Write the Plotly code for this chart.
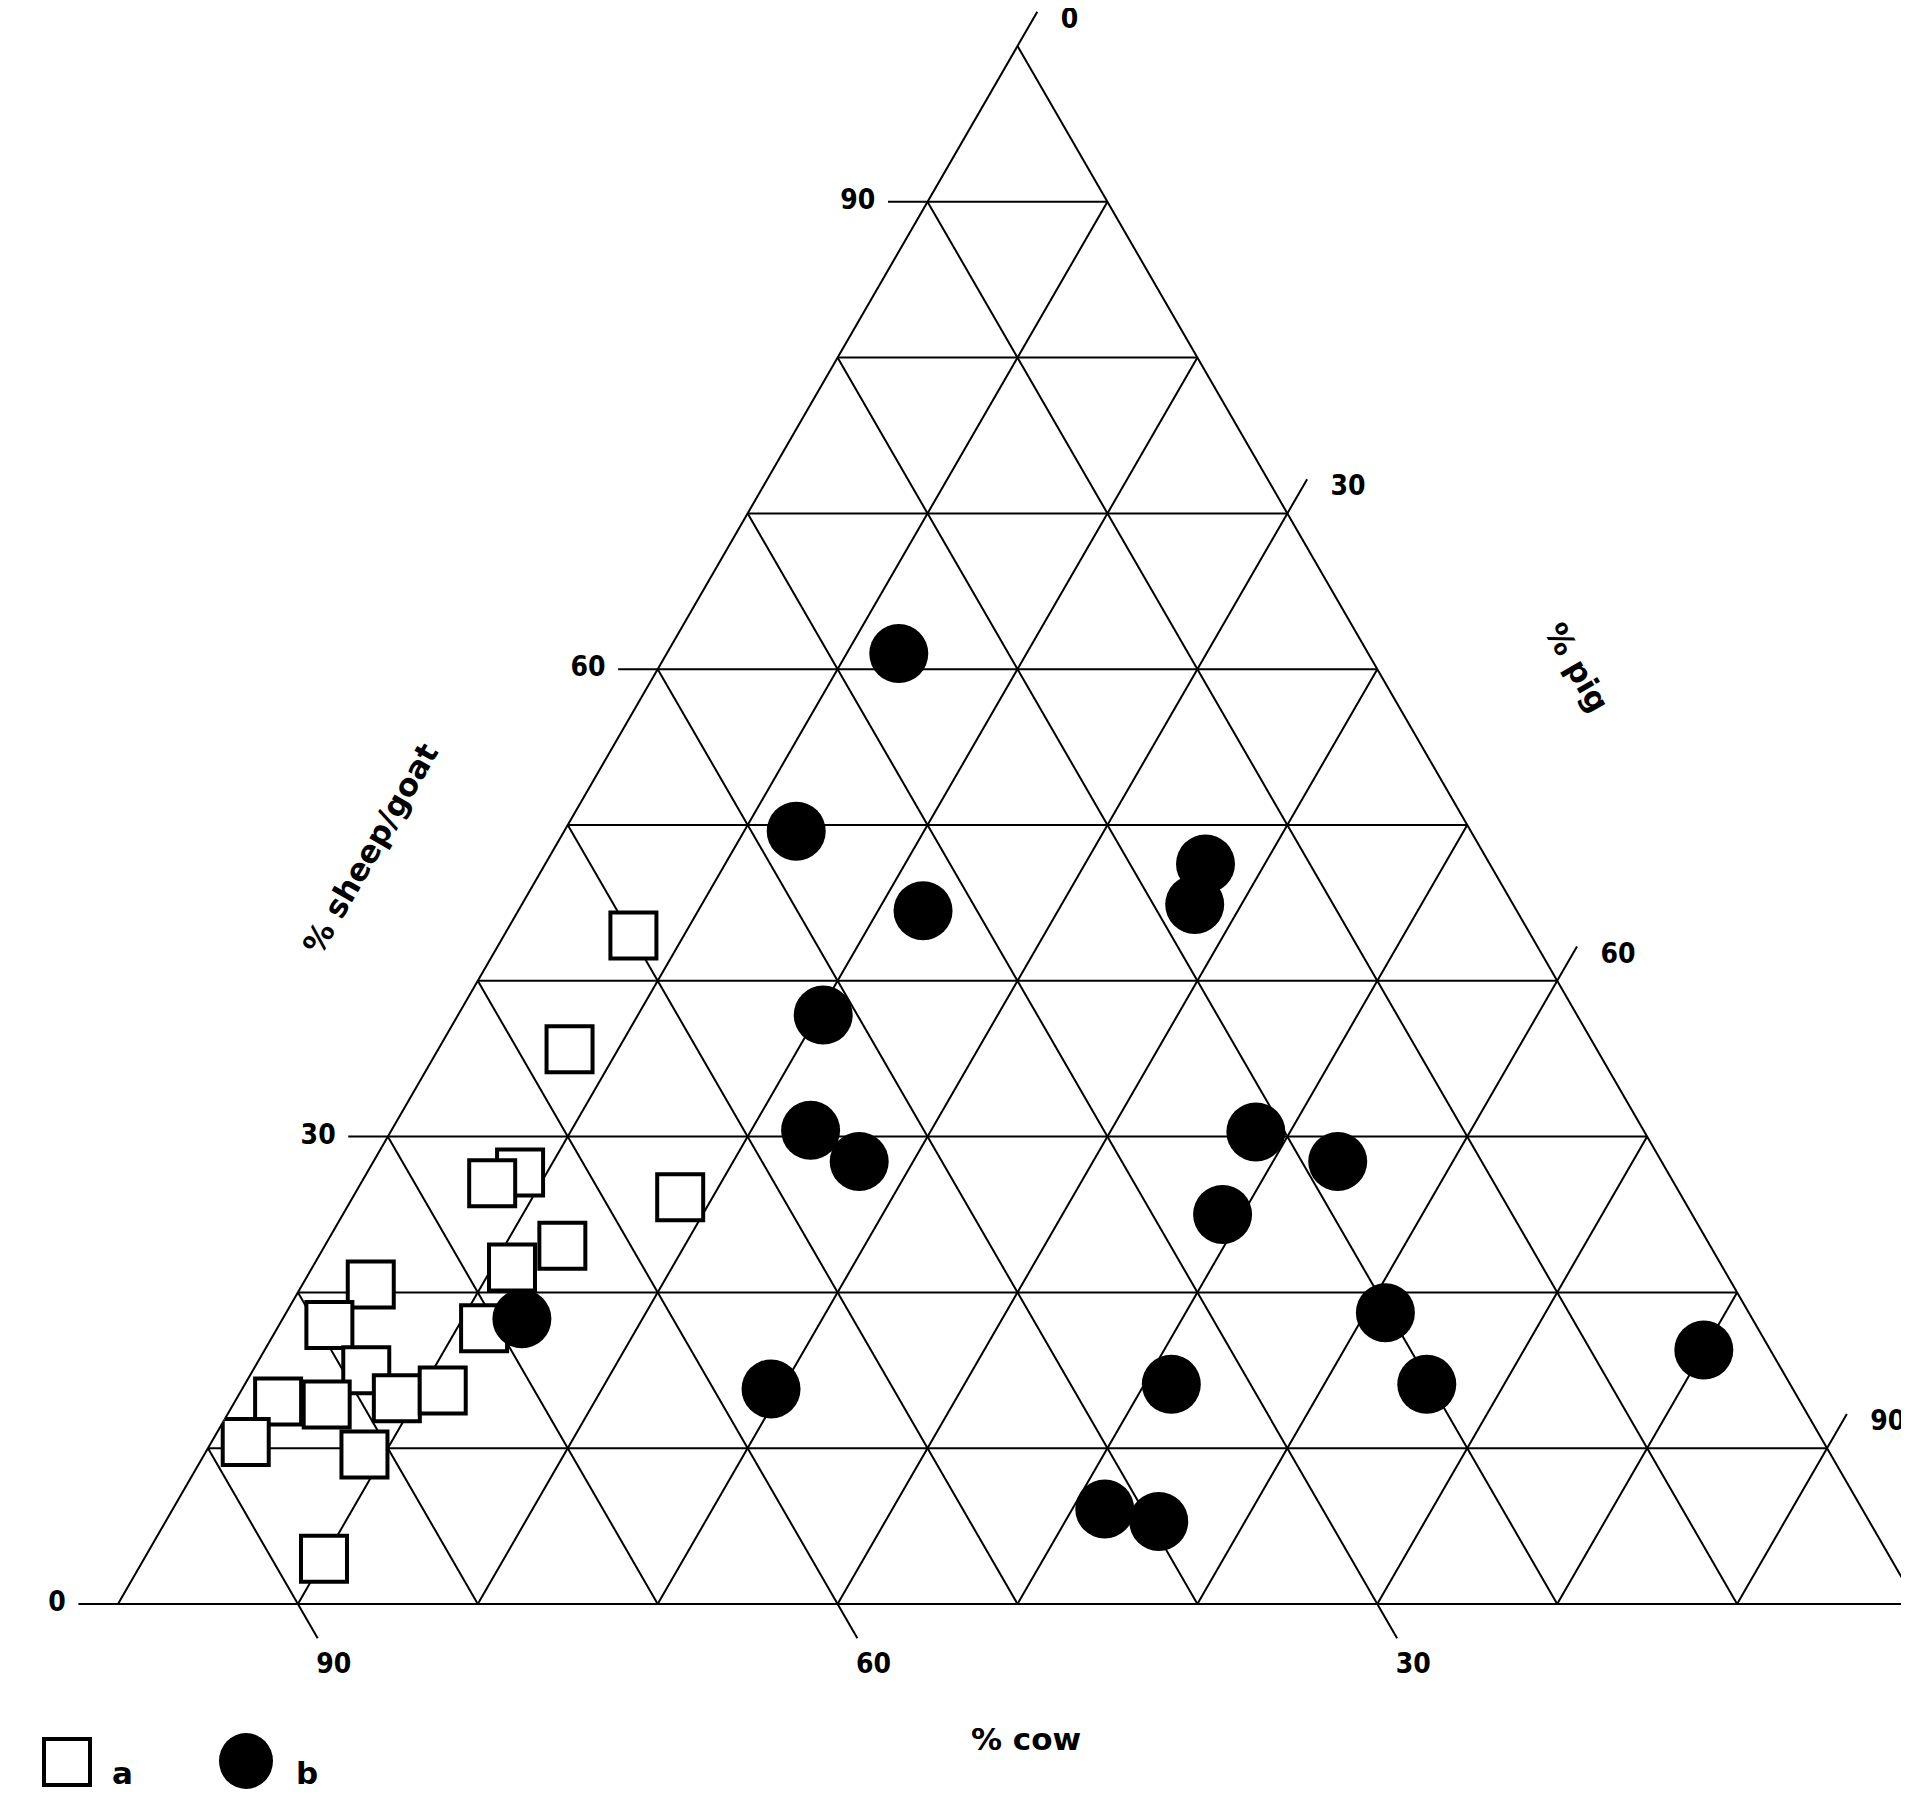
import plotly.graph_objects as go

# group a (open squares) - percentages
sheep_a = [42.9, 35.6, 27.7, 27.0, 26.1, 23.0, 21.6, 20.5, 17.9, 15.0, 17.7, 13.0, 12.8, 13.2, 13.7, 10.4, 9.6, 2.9]
cow_a = [49.9, 57.1, 63.8, 65.7, 55.7, 63.8, 67.3, 75.7, 79.3, 78.7, 70.8, 84.6, 82.0, 77.9, 75.1, 87.7, 81.5, 87.1]
pig_a = [7.2, 7.3, 8.5, 7.3, 18.2, 13.2, 11.1, 3.8, 2.8, 6.3, 11.5, 2.4, 5.2, 8.9, 11.2, 1.9, 8.9, 10.0]

# group b (filled circles)
sheep_b = [61.0, 49.6, 44.5, 47.5, 44.9, 37.8, 30.4, 28.4, 30.3, 28.4, 25.0, 18.3, 18.7, 16.3, 13.8, 14.1, 14.1, 6.1, 5.3]
cow_b = [26.1, 37.5, 33.0, 15.8, 17.7, 41.9, 46.3, 44.6, 21.6, 18.0, 26.1, 68.4, 20.2, 3.7, 56.8, 34.4, 20.2, 42.1, 39.5]
pig_b = [12.9, 12.9, 22.5, 36.7, 37.4, 20.3, 23.3, 27.0, 48.1, 53.6, 48.9, 13.3, 61.1, 80.0, 29.4, 51.5, 65.7, 51.8, 55.2]

grid_vals = [0, 10, 20, 30, 40, 50, 60, 70, 80, 90, 100]
sheep_ticks = [0, 30, 60, 90]
cow_ticks = [90, 60, 30]
pig_ticks = [0, 30, 60, 90]

EXT = 2.2  # how far the labelled grid lines stick out past the edge (in %)

W, H = 1909, 1814
TRI_L, TRI_R, TRI_B = 110, 1909, 1596   # triangle corners in figure pixels
SQ3 = 3 ** 0.5 / 2
UNIT = (TRI_R - TRI_L) / 100            # pixels per percent along the base

LABEL_FONT = dict(family="DejaVu Sans Condensed, Liberation Sans Narrow, DejaVu Sans", size=28, color="black", weight="bold")
TITLE_FONT = dict(family="DejaVu Sans", size=31, color="black", weight="bold")


def tern_xy(a, b, c):
    # standard ternary -> cartesian projection (base = 100 units)
    return c + a / 2, a * SQ3


def px(x, y):
    # figure pixels -> paper fractions (margins are zero)
    return x / W, 1 - y / H


def note(text, x, y, angle=0):
    fx, fy = px(x, y)
    return dict(text=text, x=fx, y=fy, xref="paper", yref="paper", textangle=angle,
                showarrow=False, font=TITLE_FONT, xanchor="center", yanchor="middle")


# tick stubs outside the triangle, built from the tick lists
tx, ty = [], []
for v in sheep_ticks:
    for p in [(v, 100 - v, 0), (v, 100 - v + EXT, -EXT)]:
        x, y = tern_xy(*p)
        tx.append(x)
        ty.append(y)
    tx.append(None)
    ty.append(None)
for v in cow_ticks:
    for p in [(0, v, 100 - v), (-EXT, v, 100 - v + EXT)]:
        x, y = tern_xy(*p)
        tx.append(x)
        ty.append(y)
    tx.append(None)
    ty.append(None)
for v in pig_ticks:
    for p in [(100 - v, 0, v), (100 - v + EXT, -EXT, v)]:
        x, y = tern_xy(*p)
        tx.append(x)
        ty.append(y)
    tx.append(None)
    ty.append(None)

a_lab = [tern_xy(v, 100 - v + 2.9, -2.9) for v in sheep_ticks]
b_lab = [tern_xy(-4.0, v, 100 - v + 4.0) for v in cow_ticks]
c_lab = [tern_xy(100 - v + EXT - 0.6, -EXT - 1.6 + 0.6, v + 1.6) for v in pig_ticks]

fig = go.Figure()

fig.add_trace(go.Scatter(
    x=tx, y=ty, mode="lines", line=dict(color="black", width=2),
    hoverinfo="skip", showlegend=False, cliponaxis=False))
for pts, ticks, pos in [(a_lab, sheep_ticks, "middle left"),
                        (b_lab, cow_ticks, "middle center"),
                        (c_lab, pig_ticks, "middle right")]:
    fig.add_trace(go.Scatter(
        x=[p[0] for p in pts], y=[p[1] for p in pts], mode="text",
        text=[str(v) for v in ticks], textposition=pos, textfont=LABEL_FONT,
        hoverinfo="skip", showlegend=False, cliponaxis=False))

fig.add_trace(go.Scatterternary(
    a=sheep_a, b=cow_a, c=pig_a, mode="markers", name="a",
    marker=dict(symbol="square", size=46, color="white", line=dict(color="black", width=4))))
fig.add_trace(go.Scatterternary(
    a=sheep_b, b=cow_b, c=pig_b, mode="markers", name="b",
    marker=dict(symbol="circle", size=59, color="black", line=dict(color="black", width=0))))

axis_style = dict(
    tickmode="array", tickvals=grid_vals, showticklabels=False, ticks="",
    showgrid=True, gridcolor="black", gridwidth=2,
    showline=True, linecolor="black", linewidth=2,
    layer="below traces", title=dict(text=""),
)

tri_h = (TRI_R - TRI_L) / 1.1547005
sq = px(59, 1754)
ci = px(238, 1753)

fig.update_layout(
    width=W, height=H,
    margin=dict(l=0, r=0, t=0, b=0),
    paper_bgcolor="white",
    plot_bgcolor="rgba(0,0,0,0)",
    showlegend=False,
    xaxis=dict(visible=False, range=[-TRI_L / UNIT, (W - TRI_L) / UNIT], domain=[0, 1], fixedrange=True),
    yaxis=dict(visible=False, range=[-(H - TRI_B) / UNIT, TRI_B / UNIT], domain=[0, 1], fixedrange=True),
    ternary=dict(
        sum=100,
        domain=dict(x=[TRI_L / W, TRI_R / W], y=[(H - TRI_B) / H, (H - TRI_B + tri_h + 0.05) / H]),
        bgcolor="rgba(0,0,0,0)",
        aaxis=axis_style, baxis=axis_style, caxis=axis_style,
    ),
    shapes=[
        dict(type="rect", xref="paper", yref="paper", xsizemode="pixel", ysizemode="pixel",
             xanchor=sq[0], yanchor=sq[1], x0=-23, x1=23, y0=-23, y1=23,
             fillcolor="white", line=dict(color="black", width=4)),
        dict(type="circle", xref="paper", yref="paper", xsizemode="pixel", ysizemode="pixel",
             xanchor=ci[0], yanchor=ci[1], x0=-27, x1=27, y0=-28, y1=28,
             fillcolor="black", line=dict(color="black", width=0)),
    ],
    annotations=[
        note("% sheep/goat", 362, 841, -60),
        note("% pig", 1569, 659, 60),
        note("% cow", 1018, 1731),
        note("a", 114, 1765),
        note("b", 299, 1765),
    ],
)

fig.write_html("out.html")
